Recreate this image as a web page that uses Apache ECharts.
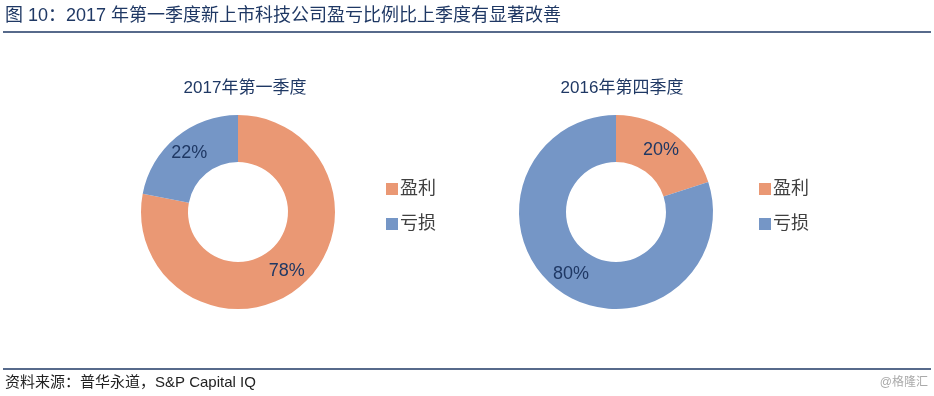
<!DOCTYPE html>
<html>
<head>
<meta charset="utf-8">
<script src="https://cdn.jsdelivr.net/npm/echarts@6/dist/echarts.min.js"></script>
<style>
  html, body { margin: 0; padding: 0; background: #fff; }
  #main { width: 934px; height: 396px; }
</style>
</head>
<body>
<div id="main"></div>
<script>
// 数据
var categories = ['盈利', '亏损'];
var q1_2017 = [78, 22];
var q4_2016 = [20, 80];
var pieTitles = ['2017年第一季度', '2016年第四季度'];

var colors = ['#EA9874', '#7596C6'];
var navy = '#1F3864';
var font = '"Liberation Sans", "Noto Sans CJK SC", sans-serif';

function toData(vals) {
	return categories.map(function (c, i) {
		return { name: c, value: vals[i] };
	});
}

function ring(name, vals, cx) {
	return {
		name: name,
		type: 'pie',
		center: [cx, 212],
		radius: [50, 97],
		startAngle: 90,
		clockwise: true,
		silent: true,
		label: {
			show: true,
			position: 'inside',
			formatter: '{c}%',
			color: navy,
			fontSize: 18,
			fontFamily: font
		},
		labelLine: { show: false },
		itemStyle: { borderWidth: 0 },
		data: toData(vals)
	};
}

function legendAt(x) {
	return {
		orient: 'vertical',
		left: x,
		top: 175,
		itemWidth: 12,
		itemHeight: 12,
		itemGap: 17,
		icon: 'rect',
		selectedMode: false,
		textStyle: { color: '#404040', fontSize: 18, fontFamily: font, padding: [0, 0, 0, -3] },
		data: categories
	};
}

var chart = echarts.init(document.getElementById('main'));

chart.setOption({
	color: colors,
	animation: false,
	title: [{
		text: pieTitles[0],
		left: 240,
		top: 75,
		textAlign: 'center',
		textStyle: { color: navy, fontSize: 17, fontWeight: 'normal', fontFamily: font }
	}, {
		text: pieTitles[1],
		left: 617,
		top: 75,
		textAlign: 'center',
		textStyle: { color: navy, fontSize: 17, fontWeight: 'normal', fontFamily: font }
	}],
	legend: [legendAt(381), legendAt(754)],
	graphic: [{
		type: 'text',
		left: 5,
		top: 7,
		style: {
			text: '图 10：2017 年第一季度新上市科技公司盈亏比例比上季度有显著改善',
			fill: navy,
			font: '18px ' + font
		}
	}, {
		type: 'line',
		shape: { x1: 3, y1: 32, x2: 931, y2: 32 },
		style: { stroke: navy, lineWidth: 1.5 }
	}, {
		type: 'line',
		shape: { x1: 3, y1: 369, x2: 931, y2: 369 },
		style: { stroke: navy, lineWidth: 1.5 }
	}, {
		type: 'text',
		left: 5,
		top: 375,
		style: {
			text: '资料来源：普华永道，S&P Capital IQ',
			fill: '#222',
			font: '15px ' + font
		}
	}, {
		type: 'text',
		right: 6,
		top: 377,
		style: {
			text: '@格隆汇',
			fill: '#aaa',
			font: '12px ' + font
		}
	}],
	series: [
		ring('2017年第一季度', q1_2017, 238),
		ring('2016年第四季度', q4_2016, 616)
	]
});
</script>
</body>
</html>
